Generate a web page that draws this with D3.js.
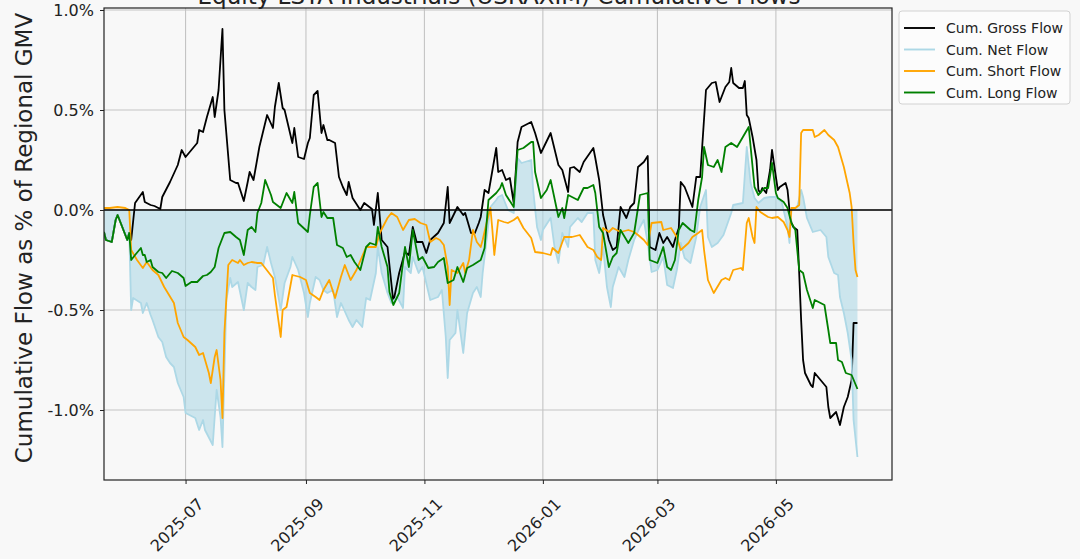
<!DOCTYPE html>
<html><head><meta charset="utf-8">
<script src="https://cdn.jsdelivr.net/npm/d3@7"></script>
<style>
body{margin:0;background:#f8f8f8;}
svg{display:block;font-family:"DejaVu Sans",sans-serif;}
</style>
</head><body>
<svg id="c" width="1080" height="559"></svg>
<script>
// ---------------- data ----------------
const chartTitle = "Equity LSTA Industrials (USRAXIM) Cumulative Flows";
const yAxisLabel = "Cumulative Flow as % of Regional GMV";
const startDate = "2025-05-20";          // first observation (day offset 0)
const axisEndDate = "2026-06-29T19:00Z"; // right limit of the x axis
const monthTicks = ["2025-07-01","2025-09-01","2025-11-01","2026-01-01","2026-03-01","2026-05-01"];
const yTicks = [-1.0, -0.5, 0.0, 0.5, 1.0];
const seriesNames = ["Cum. Gross Flow", "Cum. Net Flow", "Cum. Short Flow", "Cum. Long Flow"];
const seriesColors = ["#000000", "#add8e6", "#ffa500", "#008000"];

// [day offset from startDate, cumulative flow in % of GMV]
const grossFlow = [[0,-0.11],[1,-0.15],[4,-0.16],[6,-0.05],[7,-0.025],[9,-0.075],[12,-0.15],[13,-0.115],[14,-0.15],[16,0.035],[20,0.09],[21,0.04],[24,0.025],[26,0.02],[29,0.005],[30,0.065],[34,0.14],[38,0.225],[40,0.30],[42,0.265],[45,0.30],[48,0.335],[49,0.40],[51,0.39],[53,0.465],[56,0.565],[57,0.465],[59,0.60],[61,0.905],[62,0.50],[65,0.15],[68,0.135],[69,0.135],[72,0.045],[74,0.14],[75,0.19],[77,0.15],[80,0.315],[84,0.475],[87,0.41],[88,0.515],[90,0.635],[92,0.51],[93,0.50],[97,0.335],[98,0.41],[100,0.265],[103,0.255],[105,0.335],[106,0.36],[108,0.575],[110,0.595],[112,0.385],[113,0.425],[115,0.35],[116,0.35],[119,0.335],[121,0.165],[123,0.115],[125,0.075],[126,0.14],[128,0.06],[132,0.0],[134,0.035],[138,0.005],[139,-0.075],[141,0.085],[143,-0.15],[146,-0.185],[149,-0.46],[152,-0.315],[155,-0.21],[157,-0.225],[159,-0.085],[161,-0.16],[164,-0.16],[166,-0.215],[168,-0.15],[172,-0.115],[175,-0.065],[177,0.115],[178,-0.065],[182,0.015],[185,-0.025],[186,-0.015],[189,-0.115],[191,-0.115],[193,-0.065],[194,-0.035],[196,0.10],[198,0.085],[202,0.31],[203,0.19],[205,0.20],[207,0.15],[209,0.16],[211,0.035],[213,0.34],[215,0.415],[220,0.44],[222,0.385],[225,0.285],[230,0.385],[234,0.225],[236,0.20],[239,0.09],[240,0.21],[242,0.215],[245,0.19],[247,0.24],[252,0.31],[253,0.26],[255,0.15],[257,-0.025],[260,-0.15],[262,-0.20],[264,-0.185],[266,0.015],[269,-0.04],[271,0.015],[273,0.035],[275,0.215],[278,0.24],[280,0.27],[281,-0.185],[284,-0.20],[286,-0.115],[288,-0.165],[290,-0.135],[293,-0.185],[294,-0.15],[296,-0.09],[297,0.14],[299,0.115],[303,0.015],[305,0.165],[307,0.165],[310,0.60],[313,0.635],[315,0.64],[317,0.54],[320,0.615],[322,0.64],[323,0.71],[324,0.635],[327,0.61],[329,0.61],[330,0.645],[331,0.475],[332,0.46],[334,0.365],[336,0.25],[337,0.10],[338,0.085],[339,0.11],[341,0.085],[343,0.20],[344,0.30],[346,0.165],[347,0.10],[348,0.115],[351,0.135],[352,0.10],[353,0.0],[354,-0.065],[355,-0.085],[357,-0.10],[358,-0.315],[359,-0.55],[360,-0.75],[361,-0.815],[364,-0.875],[365,-0.885],[366,-0.815],[369,-0.85],[372,-0.885],[373,-0.985],[374,-1.04],[377,-1.01],[379,-1.075],[381,-0.985],[383,-0.935],[385,-0.85],[386,-0.565],[388,-0.565]];

const netFlow = [[0,-0.11],[1,-0.15],[4,-0.16],[6,-0.05],[7,-0.025],[9,-0.075],[12,-0.15],[13,-0.115],[14,-0.50],[15,-0.44],[19,-0.465],[20,-0.515],[22,-0.465],[24,-0.525],[25,-0.55],[28,-0.635],[30,-0.66],[32,-0.735],[34,-0.765],[36,-0.785],[38,-0.865],[41,-0.935],[42,-1.015],[44,-1.025],[47,-1.04],[49,-1.10],[51,-1.05],[52,-1.10],[56,-1.175],[57,-1.035],[58,-0.90],[60,-1.035],[61,-1.185],[63,-0.45],[65,-0.34],[66,-0.385],[69,-0.36],[72,-0.50],[74,-0.365],[76,-0.385],[78,-0.40],[79,-0.285],[82,-0.275],[84,-0.185],[86,-0.265],[88,-0.335],[91,-0.50],[93,-0.365],[96,-0.285],[97,-0.235],[100,-0.30],[103,-0.415],[105,-0.535],[106,-0.465],[109,-0.335],[111,-0.35],[113,-0.40],[115,-0.415],[118,-0.40],[120,-0.535],[122,-0.465],[123,-0.485],[126,-0.55],[128,-0.585],[130,-0.55],[133,-0.585],[135,-0.44],[137,-0.45],[140,-0.315],[141,-0.185],[143,-0.315],[146,-0.415],[148,-0.465],[151,-0.435],[154,-0.49],[155,-0.285],[158,-0.315],[159,-0.235],[162,-0.315],[164,-0.285],[168,-0.45],[172,-0.435],[174,-0.40],[176,-0.635],[177,-0.84],[178,-0.65],[181,-0.615],[182,-0.50],[185,-0.715],[187,-0.515],[190,-0.415],[192,-0.385],[194,-0.435],[195,-0.315],[197,-0.15],[199,0.015],[202,0.05],[203,0.065],[205,0.075],[208,0.0],[211,-0.015],[213,0.26],[215,0.235],[220,0.25],[221,0.10],[223,-0.085],[225,-0.15],[226,-0.10],[230,-0.04],[232,-0.185],[234,-0.265],[236,-0.115],[239,-0.185],[240,-0.085],[244,-0.04],[246,-0.06],[249,-0.015],[252,-0.015],[253,-0.25],[255,-0.315],[257,-0.185],[259,-0.385],[261,-0.485],[262,-0.385],[265,-0.285],[268,-0.335],[270,-0.25],[273,-0.15],[276,-0.085],[278,-0.05],[280,-0.165],[282,-0.31],[285,-0.30],[288,-0.235],[290,-0.375],[293,-0.39],[295,-0.30],[297,-0.165],[299,-0.24],[302,-0.265],[305,-0.135],[307,0.015],[310,0.10],[311,-0.135],[313,-0.185],[316,-0.165],[319,-0.125],[323,-0.015],[324,0.025],[329,0.035],[331,0.315],[333,0.135],[335,0.06],[337,0.035],[340,0.06],[343,0.065],[346,0.065],[349,0.04],[352,-0.085],[353,-0.165],[354,0.0],[357,0.015],[359,0.10],[360,0.065],[362,-0.04],[365,-0.11],[369,-0.10],[372,-0.135],[373,-0.235],[376,-0.315],[378,-0.325],[379,-0.435],[381,-0.515],[383,-0.615],[385,-0.75],[386,-1.05],[388,-1.235]];

const shortFlow = [[0,0.01],[3,0.01],[7,0.015],[11,0.01],[13,0.0],[14,-0.20],[17,-0.25],[20,-0.29],[22,-0.26],[25,-0.30],[28,-0.325],[31,-0.385],[36,-0.465],[38,-0.565],[41,-0.635],[43,-0.65],[47,-0.685],[49,-0.725],[51,-0.715],[54,-0.815],[55,-0.865],[57,-0.735],[58,-0.70],[60,-0.85],[61,-1.04],[62,-0.615],[64,-0.275],[66,-0.25],[69,-0.265],[70,-0.25],[72,-0.275],[74,-0.265],[76,-0.26],[79,-0.265],[81,-0.265],[83,-0.29],[87,-0.34],[88,-0.425],[91,-0.635],[92,-0.50],[94,-0.485],[97,-0.325],[101,-0.335],[104,-0.35],[106,-0.415],[109,-0.435],[111,-0.45],[113,-0.40],[116,-0.35],[119,-0.44],[122,-0.335],[124,-0.275],[127,-0.35],[130,-0.30],[135,-0.185],[137,-0.185],[140,-0.185],[142,-0.115],[146,-0.04],[148,-0.015],[151,-0.035],[154,-0.10],[157,-0.05],[160,-0.045],[163,-0.065],[166,-0.075],[168,-0.16],[171,-0.14],[173,-0.15],[175,-0.175],[177,-0.285],[178,-0.475],[179,-0.30],[182,-0.315],[185,-0.265],[186,-0.315],[188,-0.25],[190,-0.10],[192,-0.16],[194,-0.185],[195,-0.15],[197,-0.065],[199,0.01],[200,-0.10],[201,-0.225],[203,-0.05],[206,-0.06],[208,-0.065],[211,-0.05],[213,-0.035],[216,-0.09],[220,-0.14],[222,-0.21],[226,-0.215],[230,-0.225],[231,-0.19],[234,-0.215],[237,-0.135],[241,-0.135],[245,-0.125],[249,-0.185],[252,-0.20],[254,-0.235],[256,-0.25],[257,-0.09],[260,-0.11],[262,-0.09],[266,-0.11],[270,-0.10],[273,-0.11],[275,-0.125],[278,-0.15],[280,-0.175],[282,-0.065],[287,-0.06],[288,-0.10],[292,-0.09],[295,-0.135],[297,-0.20],[301,-0.165],[303,-0.135],[306,-0.115],[308,-0.10],[309,-0.20],[311,-0.35],[314,-0.415],[318,-0.35],[320,-0.34],[322,-0.35],[324,-0.30],[328,-0.29],[329,-0.30],[331,-0.065],[332,-0.04],[334,-0.135],[335,-0.165],[336,0.015],[338,-0.01],[342,-0.035],[344,-0.04],[347,-0.035],[350,-0.06],[352,-0.10],[353,-0.135],[354,0.01],[356,0.01],[358,0.025],[359,0.385],[360,0.40],[365,0.40],[366,0.365],[368,0.375],[371,0.40],[373,0.375],[376,0.35],[378,0.315],[381,0.215],[384,0.085],[385,0.015],[386,-0.165],[387,-0.30],[388,-0.335]];

const longFlow = [[0,-0.11],[1,-0.15],[4,-0.16],[6,-0.05],[7,-0.025],[9,-0.075],[12,-0.15],[13,-0.115],[14,-0.25],[16,-0.225],[19,-0.19],[20,-0.225],[21,-0.225],[22,-0.26],[24,-0.25],[25,-0.285],[28,-0.31],[30,-0.315],[32,-0.34],[35,-0.305],[38,-0.315],[41,-0.34],[42,-0.38],[45,-0.36],[48,-0.36],[51,-0.33],[53,-0.325],[55,-0.31],[57,-0.285],[59,-0.19],[62,-0.115],[65,-0.11],[68,-0.135],[70,-0.15],[72,-0.225],[74,-0.10],[76,-0.085],[78,-0.11],[79,-0.015],[81,0.035],[83,0.15],[86,0.075],[87,0.04],[91,0.01],[94,0.085],[97,0.035],[98,0.09],[100,-0.065],[105,-0.11],[106,-0.025],[108,0.115],[110,0.135],[112,-0.035],[113,-0.01],[115,-0.04],[118,-0.04],[120,-0.175],[123,-0.19],[125,-0.235],[127,-0.225],[129,-0.26],[132,-0.30],[135,-0.185],[137,-0.165],[140,-0.175],[141,-0.085],[143,-0.185],[146,-0.285],[147,-0.41],[149,-0.475],[152,-0.415],[155,-0.185],[157,-0.285],[159,-0.10],[162,-0.25],[164,-0.235],[167,-0.29],[170,-0.285],[172,-0.26],[175,-0.24],[177,-0.365],[180,-0.35],[182,-0.285],[185,-0.36],[187,-0.29],[190,-0.275],[194,-0.25],[196,-0.19],[198,0.05],[202,0.085],[204,0.11],[205,0.135],[207,0.075],[211,0.015],[213,0.30],[216,0.31],[220,0.34],[221,0.34],[222,0.19],[225,0.06],[228,0.10],[230,0.15],[234,-0.035],[236,0.01],[237,-0.04],[239,0.075],[244,0.05],[247,0.11],[249,0.11],[252,0.125],[253,0.085],[255,-0.085],[257,-0.115],[260,-0.285],[262,-0.235],[264,-0.215],[266,-0.10],[270,-0.165],[273,-0.115],[276,0.075],[280,0.085],[281,-0.25],[285,-0.265],[288,-0.185],[290,-0.285],[292,-0.30],[294,-0.25],[296,-0.10],[298,-0.065],[302,-0.10],[304,-0.11],[306,0.05],[308,0.165],[309,0.315],[311,0.225],[314,0.215],[316,0.25],[318,0.19],[320,0.315],[323,0.335],[326,0.315],[329,0.365],[332,0.415],[333,0.315],[335,0.115],[337,0.075],[340,0.11],[342,0.11],[344,0.235],[346,0.085],[347,0.06],[350,0.04],[352,0.01],[354,-0.065],[356,-0.10],[358,-0.30],[360,-0.315],[362,-0.40],[365,-0.49],[366,-0.45],[371,-0.475],[373,-0.60],[374,-0.665],[377,-0.665],[378,-0.75],[380,-0.76],[382,-0.815],[385,-0.825],[388,-0.895]];

// ---------------- drawing ----------------
const svg = d3.select("#c");
const W = 1080, H = 559;
const plot = {left: 104, right: 892, top: 8, bottom: 480};
const t0 = new Date(startDate + "T00:00Z");
const toDate = d => d3.utcDay.offset(t0, d);

const x = d3.scaleUtc().domain([t0, new Date(axisEndDate)]).range([plot.left, plot.right]);
const y = d3.scaleLinear().domain([-1.35, 1.01]).range([plot.bottom, plot.top]);

svg.append("rect").attr("width", W).attr("height", H).attr("fill", "#f8f8f8");

// grid
const gGrid = svg.append("g");
const tickDates = monthTicks.map(s => new Date(s + "T00:00Z"));
gGrid.selectAll("line.vx").data(tickDates).enter().append("line")
  .attr("x1", d => x(d)).attr("x2", d => x(d))
  .attr("y1", plot.top).attr("y2", plot.bottom)
  .attr("stroke", "#c4c4c4").attr("stroke-width", 1.1);
gGrid.selectAll("line.hy").data(yTicks).enter().append("line")
  .attr("x1", plot.left).attr("x2", plot.right)
  .attr("y1", d => y(d)).attr("y2", d => y(d))
  .attr("stroke", "#c4c4c4").attr("stroke-width", 1.1);

// clip
svg.append("clipPath").attr("id", "clip").append("rect")
  .attr("x", plot.left).attr("y", plot.top)
  .attr("width", plot.right - plot.left).attr("height", plot.bottom - plot.top);
const gData = svg.append("g").attr("clip-path", "url(#clip)");

// net area fill
const area = d3.area().x(d => x(toDate(d[0]))).y0(y(0)).y1(d => y(d[1]));
gData.append("path").datum(netFlow).attr("d", area)
  .attr("fill", seriesColors[1]).attr("fill-opacity", 0.58);

const line = d3.line().x(d => x(toDate(d[0]))).y(d => y(d[1]));
const series = [grossFlow, netFlow, shortFlow, longFlow];
series.forEach((s, i) => {
  gData.append("path").datum(s).attr("d", line)
    .attr("fill", "none").attr("stroke", seriesColors[i])
    .attr("stroke-width", 1.8).attr("stroke-linejoin", "round");
});

// zero line
svg.append("line").attr("x1", plot.left).attr("x2", plot.right)
  .attr("y1", y(0)).attr("y2", y(0)).attr("stroke", "#000").attr("stroke-width", 1.7);

// frame
svg.append("rect").attr("x", plot.left).attr("y", plot.top)
  .attr("width", plot.right - plot.left).attr("height", plot.bottom - plot.top)
  .attr("fill", "none").attr("stroke", "#222").attr("stroke-width", 1.2);

// y axis
const yAxis = d3.axisLeft(y).tickValues(yTicks).tickSize(4).tickPadding(6)
  .tickFormat(d => d3.format(".1f")(d).replace("\u2212", "-") + "%");
const gy = svg.append("g").attr("transform", `translate(${plot.left},0)`).call(yAxis);
gy.select(".domain").remove();
gy.selectAll("text").attr("font-size", 16).attr("fill", "#222").attr("font-family", "DejaVu Sans");
gy.selectAll("line").attr("stroke", "#222");

// x axis
const xAxis = d3.axisBottom(x).tickValues(tickDates).tickSize(4).tickFormat(d3.utcFormat("%Y-%m"));
const gx = svg.append("g").attr("transform", `translate(0,${plot.bottom})`).call(xAxis);
gx.select(".domain").remove();
gx.selectAll("line").attr("stroke", "#222");
gx.selectAll("text").each(function() {
  const t = d3.select(this);
  t.attr("font-size", 16).attr("fill", "#222").attr("font-family", "DejaVu Sans")
   .attr("dy", null).attr("y", null);
  const L = this.getComputedTextLength();
  const side = (L + 12) * Math.SQRT1_2;
  t.attr("text-anchor", "middle").attr("dominant-baseline", "central")
   .attr("transform", `translate(-9,${17 + side / 2}) rotate(-45)`);
});

// y label
svg.append("text").attr("transform", `translate(32,238) rotate(-90)`)
  .attr("text-anchor", "middle").attr("font-size", 23).attr("fill", "#222")
  .text(yAxisLabel);

// title (cropped at top, as in the source image)
svg.append("text").attr("x", 499).attr("y", 3.5)
  .attr("text-anchor", "middle").attr("font-size", 23).attr("fill", "#222")
  .text(chartTitle);

// legend
const lg = svg.append("g").attr("transform", "translate(899,11)");
lg.append("rect").attr("width", 171).attr("height", 93).attr("rx", 3)
  .attr("fill", "#fcfcfc").attr("stroke", "#d2d2d2");
seriesNames.forEach((n, i) => {
  const yy = 17 + i * 21.5;
  lg.append("line").attr("x1", 5).attr("x2", 36).attr("y1", yy).attr("y2", yy)
    .attr("stroke", seriesColors[i]).attr("stroke-width", 1.9);
  lg.append("text").attr("x", 47).attr("y", yy).attr("dominant-baseline", "central")
    .attr("font-size", 14).attr("fill", "#222").text(n);
});
</script>
</body></html>
